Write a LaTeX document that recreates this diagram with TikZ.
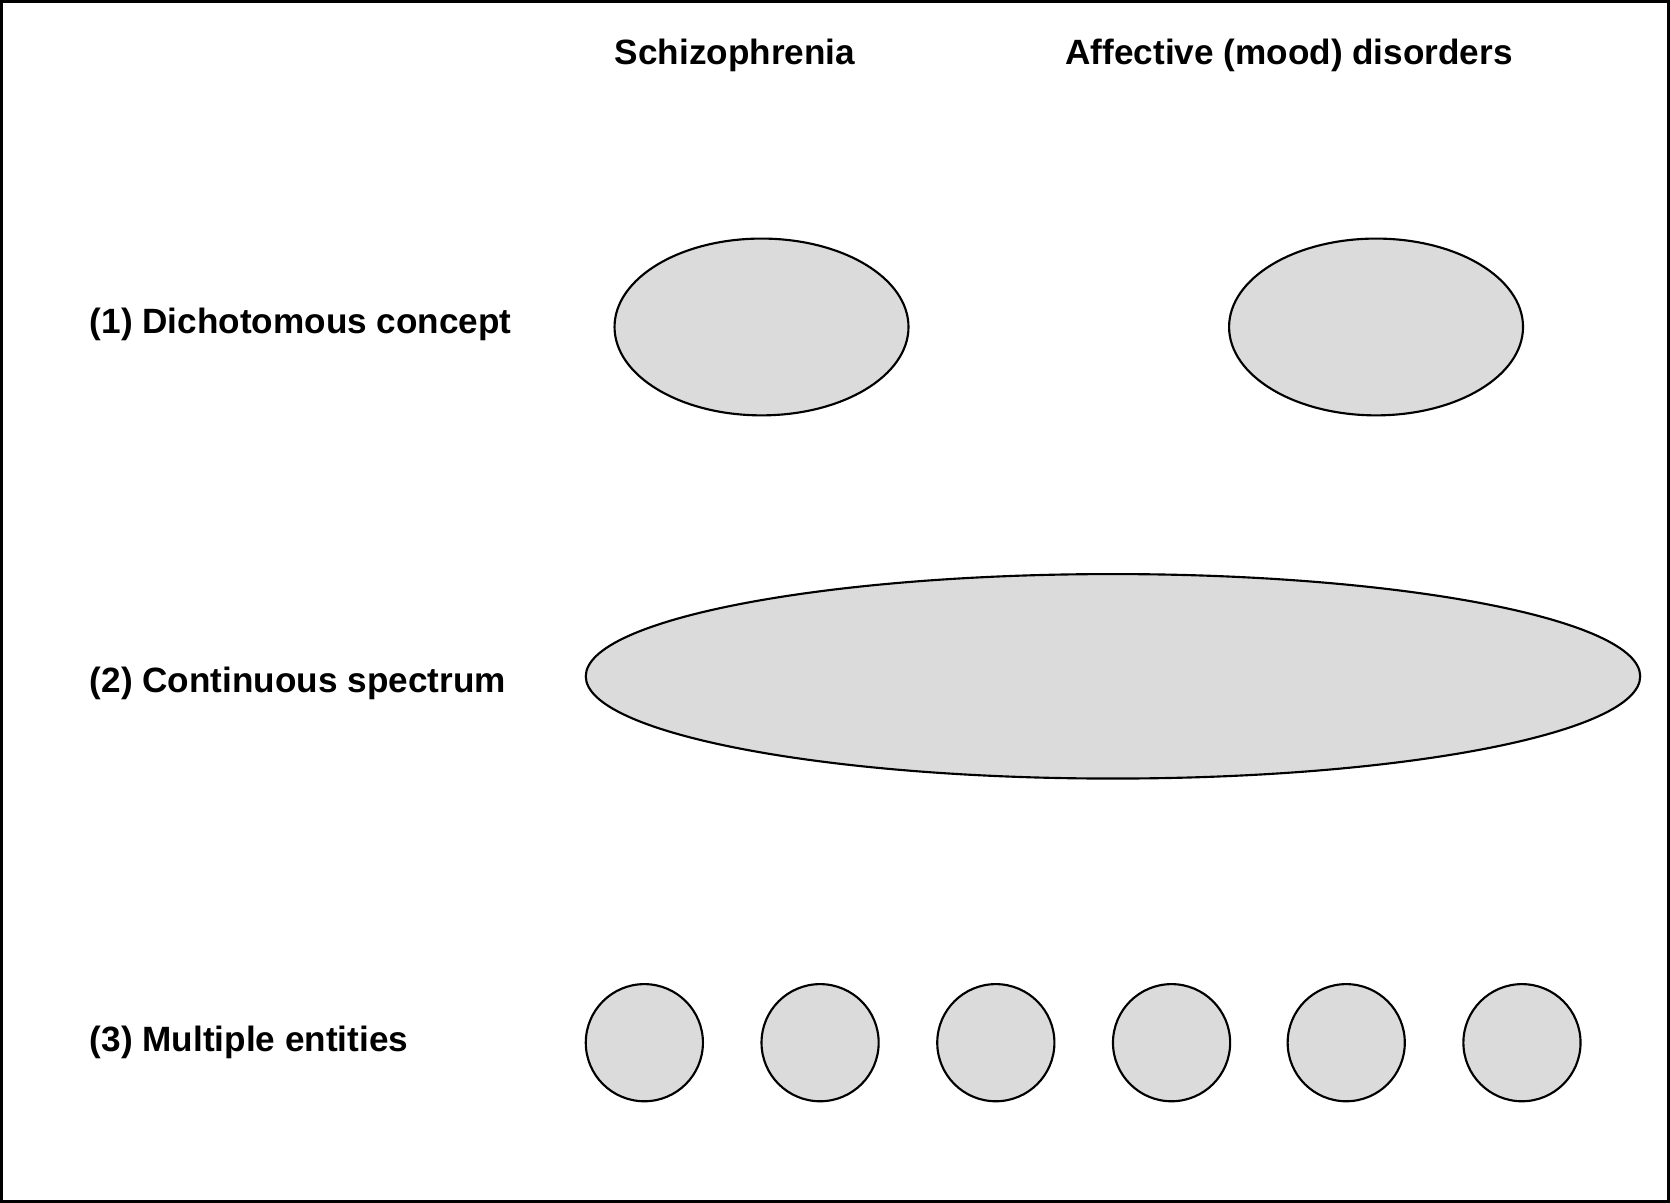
\documentclass[tikz,border=0pt]{standalone}
\usepackage{fontspec}
\setmainfont{Liberation Sans}
\begin{document}
\begin{tikzpicture}[x=0.5pt,y=-0.5pt,
  lbl/.style={font=\fontsize{16.5}{19}\selectfont\bfseries, anchor=west, inner sep=0pt},
  blob/.style={draw=black, line width=1pt, fill=black!14}]
\useasboundingbox (0,0) rectangle (1568,1129);
\draw[line width=1.5pt] (1,1) rectangle (1567,1128);
\node[lbl] (h1) at (577,52) {Schizophrenia};
\node[lbl] (h2) at (1000,52) {Affective (mood) disorders};
\node[lbl] (l1) at (84,305) {(1) Dichotomous concept};
\node[lbl] (l2) at (84,642) {(2) Continuous spectrum};
\node[lbl] (l3) at (84,979) {(3) Multiple entities};
\draw[blob] (715,307) ellipse [x radius=138, y radius=83];
\draw[blob] (1292,307) ellipse [x radius=138, y radius=83];
\draw[blob] (1045,635) ellipse [x radius=495, y radius=96];
\foreach \x in {605,770,935,1100,1264,1429}
  \draw[blob] (\x,979) circle [radius=55];
\end{tikzpicture}
\end{document}
